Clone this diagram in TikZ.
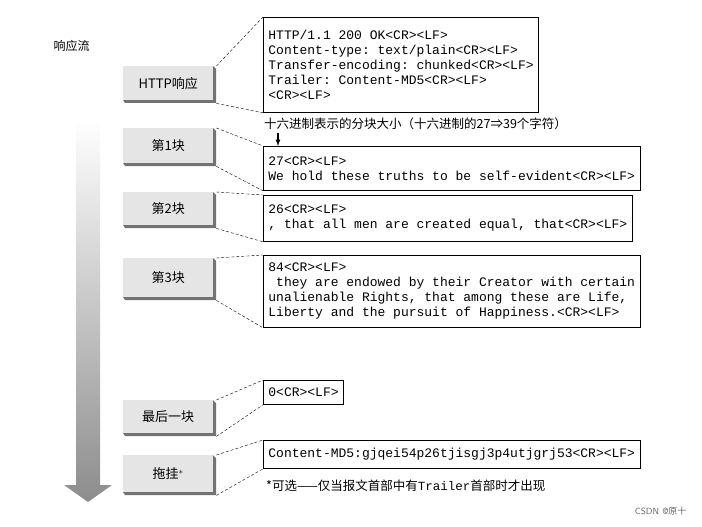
\documentclass[tikz,border=0pt]{standalone}
\usepackage{fontspec}
\setmonofont{Liberation Mono}
\newfontfamily\cjk{Noto Sans CJK SC}
\usetikzlibrary{shadings}
\begin{document}
\begin{tikzpicture}[x=1pt,y=-1pt,
  blk/.style={fill=black!10,minimum width=90pt,anchor=north west,font=\cjk\fontsize{13}{15}\selectfont,inner sep=0pt},
  tbox/.style={draw,thick,anchor=north west,align=left,font=\ttfamily\fontsize{13}{15}\selectfont,inner xsep=5pt,inner ysep=3pt},
  dl/.style={dash pattern=on 3pt off 2pt,thin}]
\useasboundingbox (0,0) rectangle (702,527);
% flow arrow
\shade[top color=white,bottom color=black!45] (76,120) -- (100,120) -- (100,485) -- (112,485) -- (88,502) -- (64,485) -- (76,485) -- cycle;
\node[font=\cjk\fontsize{12}{14}\selectfont,anchor=west] (title) at (50,46) {响应流};
% blocks with shadow
\foreach \n/\t/\a/\b in {h/HTTP响应/66/103, c1/第1块/128/166, c2/第2块/192/228, c3/第3块/258/300, c4/最后一块/400/436, c5/拖挂$^{*}$/455/495}{
  \fill[black!55] (125,\b) -- (216,\b) -- (216,\a+3) -- (213,\a) -- (213,\b-3) -- (123,\b-3) -- cycle;
  \node[blk,minimum height={\b-\a-3}] (\n) at (123,\a) {\t};
}
% text boxes
\node[tbox,minimum height=95pt] (t1) at (263,17) {HTTP/1.1 200 OK<CR><LF>\\Content-type: text/plain<CR><LF>\\Transfer-encoding: chunked<CR><LF>\\Trailer: Content-MD5<CR><LF>\\<CR><LF>};
\node[font=\cjk\fontsize{12.5}{14}\selectfont,anchor=west,inner sep=0pt] (hex) at (264,124) {十六进制表示的分块大小（十六进制的27⇒39个字符）};
\node[tbox,minimum height=44pt] (t2) at (263,146) {27<CR><LF>\\We hold these truths to be self-evident<CR><LF>};
\node[tbox,minimum height=46pt] (t3) at (263,195) {26<CR><LF>\\, that all men are created equal, that<CR><LF>};
\node[tbox,minimum height=72pt] (t4) at (263,255) {84<CR><LF>\\\mbox{}\ they are endowed by their Creator with certain\\unalienable Rights, that among these are Life,\\Liberty and the pursuit of Happiness.<CR><LF>};
\node[tbox,minimum height=24pt] (t5) at (263,380) {0<CR><LF>};
\node[tbox,minimum height=28pt] (t6) at (263,440) {Content-MD5:gjqei54p26tjisgj3p4utjgrj53<CR><LF>};
\node[font=\cjk\fontsize{12.5}{14}\selectfont,anchor=west,inner sep=0pt] (note) at (266,486) {*可选——仅当报文首部中有{\ttfamily Trailer}首部时才出现};
\node[font=\sffamily\fontsize{9}{11}\selectfont,text=black!60,anchor=east] (wm) at (690,511) {CSDN @{\cjk 原十}};
\coordinate (ha) at (278,133);
\draw[-latex,very thick] (ha) -- (t2.north west -| ha);
% dashed connectors
\foreach \b/\t in {h/t1,c1/t2,c2/t3,c3/t4,c4/t5,c5/t6}{
  \draw[dl] ([xshift=3pt]\b.north east) -- (\t.north west);
  \draw[dl] ([xshift=3pt,yshift=-3pt]\b.south east) -- (\t.south west);
}
\end{tikzpicture}
\end{document}
